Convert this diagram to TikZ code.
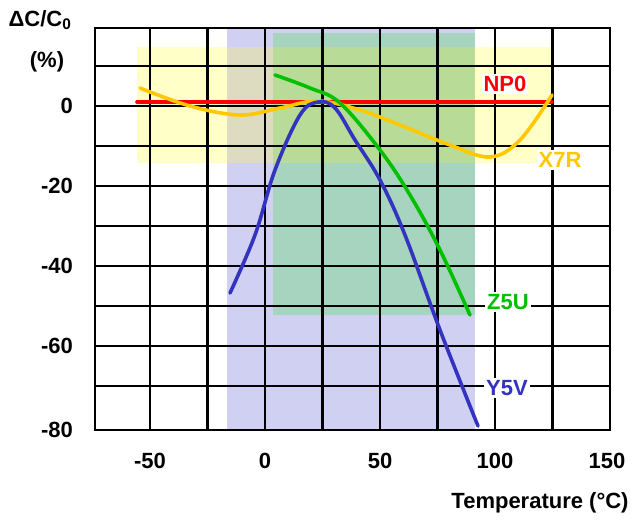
\documentclass[tikz,border=0pt]{standalone}
\usepackage{fontspec}
\setmainfont{Liberation Sans}
\begin{document}
\begin{tikzpicture}[x=1pt,y=-1pt,
  grid/.style={black,line width=2.2pt},
  curve/.style={line width=3.6pt,line cap=round},
  lbl/.style={font=\bfseries\fontsize{22}{26}\selectfont,fill=white,inner sep=2pt},
  ax/.style={font=\bfseries\fontsize{22}{26}\selectfont,inner sep=0pt}]
\definecolor{cblue}{HTML}{D0D0F2}
\definecolor{cgreen}{HTML}{A6D4BE}
\definecolor{cyel}{HTML}{FFFFC8}
\definecolor{cyb}{HTML}{DDDBC0}
\definecolor{call}{HTML}{B8DC98}
\definecolor{lyel}{HTML}{FFC800}
\definecolor{lgreen}{HTML}{00C000}
\definecolor{lblue}{HTML}{3333C0}
\useasboundingbox[fill=white] (0,0) rectangle (640,520);
% regions
\fill[cblue] (227,28) rectangle (475,430);
\fill[cgreen] (273,33) rectangle (475,315);
\fill[cyel] (137,47) rectangle (552,163);
\fill[cyb] (227,47) rectangle (273,163);
\fill[call] (273,47) rectangle (475,163);
% grid
\foreach \x in {150,207.5,265,322.5,380,437.5,495,552.5} \draw[grid] (\x,28) -- (\x,430);
\foreach \y in {66,106,146,186,226,266,306,346,386} \draw[grid] (95,\y) -- (610,\y);
\draw[grid] (95,28) rectangle (610,430);
% curves
\draw[curve,red] (137,102) -- (552,102);
\draw[curve,lyel] plot[smooth,tension=0.6] coordinates {(140,88) (190,106) (240,115) (280,108) (318,101) (360,110) (400,125) (450,145) (490,157) (520,140) (552,95)};
\draw[curve,lgreen] plot[smooth,tension=0.6] coordinates {(275,75) (310,88) (340,103) (380,150) (410,195) (440,250) (470,315)};
\draw[curve,lblue] plot[smooth,tension=0.6] coordinates {(230,293) (255,235) (275,170) (300,115) (318,102) (335,108) (355,140) (380,180) (405,235) (440,330) (478,426)};
% labels
\node[lbl,text=red] (np0) at (505,84) {NP0};
\node[lbl,text=lyel] (x7r) at (560,160) {X7R};
\node[lbl,text=lgreen] (z5u) at (508,302) {Z5U};
\node[lbl,text=lblue] (y5v) at (507,388) {Y5V};
% axes
\node[ax,anchor=east] (y0) at (73,106) {0};
\node[ax,anchor=east] (y20) at (73,186) {-20};
\node[ax,anchor=east] (y40) at (73,266) {-40};
\node[ax,anchor=east] (y60) at (73,346) {-60};
\node[ax,anchor=east] (y80) at (73,430) {-80};
\node[ax] (pc) at (47,62) {(\%)};
\node[ax] (dc) at (40,20) {ΔC/C\textsubscript{0}};
\node[ax] (xm50) at (150,461) {-50};
\node[ax] (x0) at (265,461) {0};
\node[ax] (x50) at (380,461) {50};
\node[ax] (x100) at (495,461) {100};
\node[ax] (x150) at (607,461) {150};
\node[ax] (tt) at (540,503) {Temperature (°C)};
\end{tikzpicture}
\end{document}
